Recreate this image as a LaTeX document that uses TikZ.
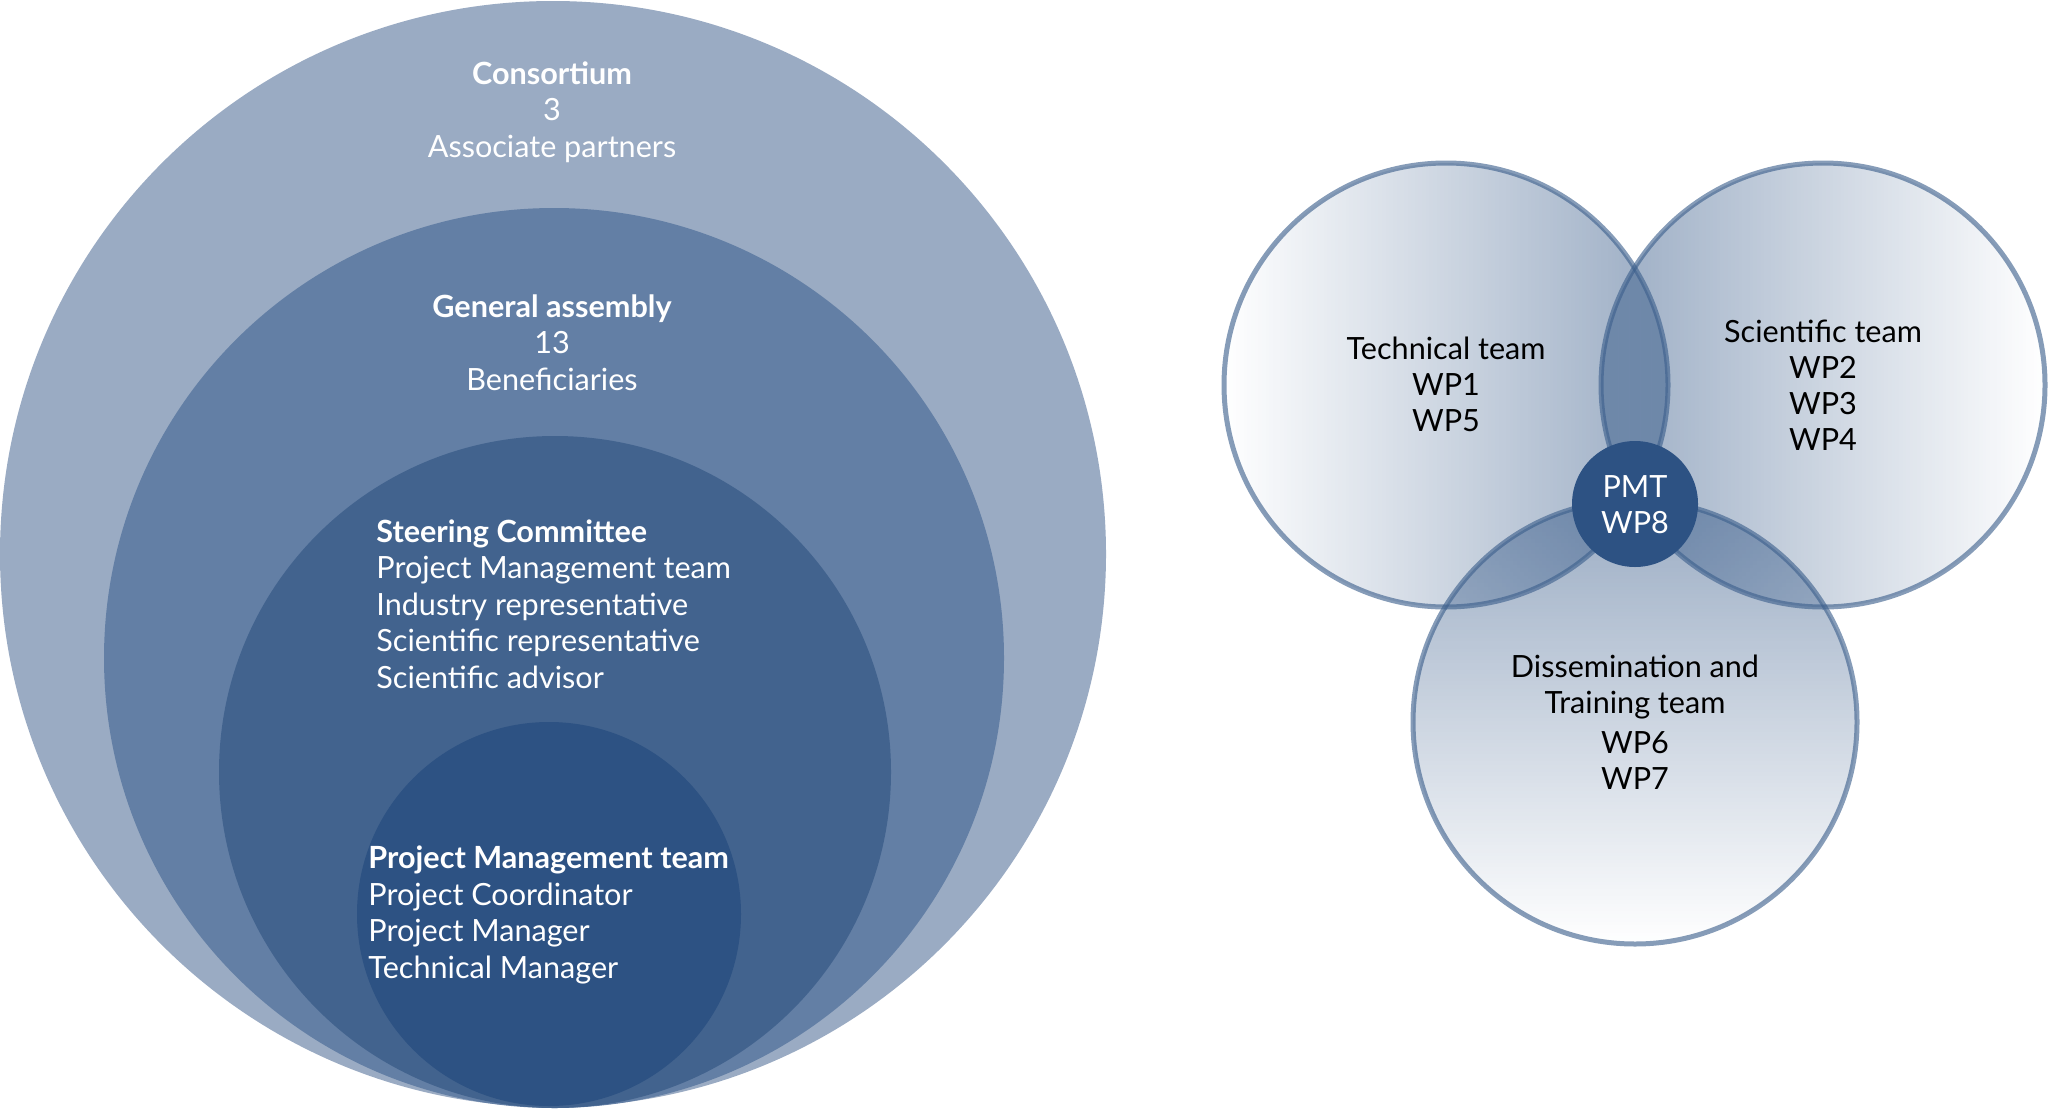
\documentclass[tikz,border=0pt]{standalone}
\usepackage{fontspec}
\setmainfont{Lato}
\usetikzlibrary{fadings}
\definecolor{cOne}{RGB}{154,171,195}
\definecolor{cTwo}{RGB}{99,127,165}
\definecolor{cThree}{RGB}{66,99,142}
\definecolor{cFour}{RGB}{45,82,131}
\definecolor{vennC}{RGB}{45,82,131}
\definecolor{vennLine}{RGB}{60,95,140}
\tikzfading[name=fadeR, left color=transparent!100, right color=transparent!52]
\tikzfading[name=fadeL, left color=transparent!52, right color=transparent!100]
\tikzfading[name=fadeD, top color=transparent!52, bottom color=transparent!100]
\begin{document}
\begin{tikzpicture}[x=0.5pt,y=-0.5pt,
  txt/.style={inner sep=0pt, font=\fontsize{15.3}{18.2}\selectfont},
  wtxt/.style={txt, text=white},
  btxt/.style={txt, text=black, align=center, font=\fontsize{15.3}{17.9}\selectfont},
  vring/.style={draw=vennLine, draw opacity=0.62, line width=2.5pt}]
\useasboundingbox (0,0) rectangle (2048,1108);
% nested circles
\fill[cOne] (553,554) circle[radius=276.5pt];
\fill[cTwo] (554,658) circle[radius=225pt];
\fill[cThree] (555,772) circle[radius=168pt];
\fill[cFour] (549,914) circle[radius=96pt];
% texts (anchor = baseline of last line)
\node[wtxt, align=center, anchor=base] (cons) at (552,157) {\textbf{Consortium}\\3\\Associate partners};
\node[wtxt, align=center, anchor=base] (ga) at (552,390) {\textbf{General assembly}\\13\\Beneficiaries};
\node[wtxt, align=left, anchor=base west] (sc) at (376,688) {\textbf{Steering Committee}\\Project Management team\\Industry representative\\Scientific representative\\Scientific advisor};
\node[wtxt, align=left, anchor=base west] (pm) at (368,978) {\textbf{Project Management team}\\Project Coordinator\\Project Manager\\Technical Manager};
% venn
\fill[vennC, path fading=fadeR] (1446,385) circle[radius=111pt];
\fill[vennC, path fading=fadeL] (1823,385) circle[radius=111pt];
\fill[vennC, path fading=fadeD] (1635,722) circle[radius=111pt];
\draw[vring] (1446,385) circle[radius=111pt];
\draw[vring] (1823,385) circle[radius=111pt];
\draw[vring] (1635,722) circle[radius=111pt];
\fill[cFour] (1635,504) circle[radius=31.5pt];
\node[btxt, anchor=base] (tech) at (1446,431) {Technical team\\WP1\\WP5};
\node[btxt, anchor=base] (sci) at (1823,450) {Scientific team\\WP2\\WP3\\WP4};
\node[btxt, anchor=base] (dis) at (1635,789) {Dissemination and\\Training team\\[2pt]WP6\\WP7};
\node[btxt, text=white, anchor=base] (pmt) at (1635,533) {PMT\\WP8};
\end{tikzpicture}
\end{document}
